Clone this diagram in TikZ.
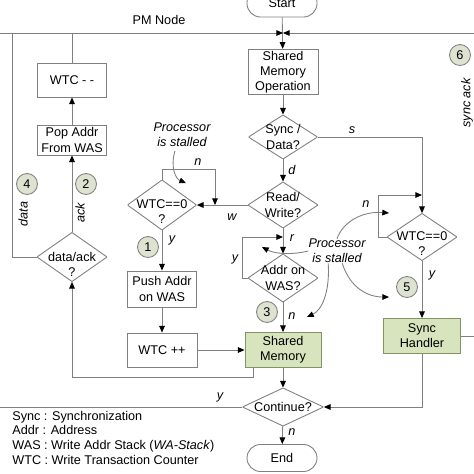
\documentclass[tikz,border=0pt]{standalone}
\usepackage{fontspec}
\setmainfont{Liberation Sans}
\usetikzlibrary{arrows.meta}

\definecolor{linegray}{RGB}{128,128,128}
\definecolor{boxgreen}{RGB}{215,228,189}
\definecolor{greenedge}{RGB}{130,148,98}
\definecolor{markfill}{RGB}{222,226,208}

\tikzset{
  txt/.style={font=\fontsize{7.2}{8.6}\selectfont},
  lbl/.style={font=\fontsize{7.2}{8.6}\selectfont\itshape, inner sep=0pt},
  line/.style={draw=linegray, line width=0.5pt},
  arr/.style={line, -{Triangle[length=3.8pt,width=3.2pt,color=black,fill=black]}},
  proc/.style={txt, rectangle, draw=linegray, line width=0.5pt, fill=white, align=center, inner sep=1pt},
  act/.style={proc, fill=boxgreen, draw=greenedge},
  term/.style={proc, rounded corners=0.27cm},
  dec/.style={txt, rectangle, fill=white, align=center, inner sep=0pt,
    path picture={\draw[linegray, line width=0.5pt]
      (path picture bounding box.north) -- (path picture bounding box.east) --
      (path picture bounding box.south) -- (path picture bounding box.west) -- cycle;}},
  qtext/.style={txt, align=center, yshift=-0.14cm},
  badge/.style={txt, circle, draw=linegray, line width=0.5pt, fill=markfill, inner sep=0pt, minimum size=0.42cm}
}

\begin{document}
\begin{tikzpicture}[x=0.02cm, y=-0.02cm]
\useasboundingbox (0,0) rectangle (474,474);

% main column
\node[term, minimum width=1.4cm, minimum height=0.56cm] (start) at (282,3) {Start};
\node[proc, minimum width=1.4cm, minimum height=0.86cm] (smo) at (283,72) {Shared\\Memory\\Operation};
\node[dec, minimum width=1.38cm, minimum height=0.88cm] (sd) at (283,137) {Sync /\\Data?};
\node[dec, minimum width=1.4cm, minimum height=0.92cm] (rw) at (283,205) {Read/\\Write?};
\node[dec, minimum width=1.4cm, minimum height=0.96cm] (aw) at (283,278) {Addr on\\WAS?};
\node[act, minimum width=1.52cm, minimum height=0.7cm] (shm) at (283,350) {Shared\\Memory};
\node[dec, minimum width=1.62cm, minimum height=0.76cm] (cont) at (283,407) {Continue?};
\node[term, minimum width=1.4cm, minimum height=0.54cm] (end) at (282,458) {End};

% write column
\node[dec, minimum width=1.38cm, minimum height=1.0cm, label={[qtext]center:WTC==0\\?}] (lwtc) at (162,205) {};
\node[proc, minimum width=1.38cm, minimum height=0.72cm] (push) at (162,289) {Push Addr\\on WAS};
\node[proc, minimum width=1.4cm, minimum height=0.68cm] (wtcp) at (162,350) {WTC ++};

% PM node column
\node[dec, minimum width=1.4cm, minimum height=0.98cm, label={[qtext]center:data/ack\\?}] (da) at (72,257) {};
\node[proc, minimum width=1.38cm, minimum height=0.6cm] (pop) at (72,140) {Pop Addr\\From WAS};
\node[proc, minimum width=1.38cm, minimum height=0.68cm] (wtcm) at (72,80) {WTC - -};

% sync column
\node[dec, minimum width=1.4cm, minimum height=0.94cm, label={[qtext]center:WTC==0\\?}] (rwtc) at (422,237) {};
\node[act, minimum width=1.54cm, minimum height=0.7cm] (sh) at (422,336) {Sync\\Handler};

\coordinate (pm) at (283,33);
\node[txt] (pmn) at (159,20) {PM Node};

% connectors
\draw[arr] (start) -- (smo);
\draw[arr] (smo) -- (sd);
\draw[arr] (sd) -- (rw);
\draw[arr] (sd.east) -| (rwtc.north);
\draw[arr] (rw.west) -- (lwtc.east);
\draw[arr] (lwtc.north) -- ++(0,-10) -| (215,205);
\draw[arr] (lwtc) -- (push);
\draw[arr] (push) -- (wtcp);
\draw[arr] (wtcp) -- (shm);
\draw[arr] (rw) -- (aw);
\draw[arr] (aw.west) -- ++(-5,0) |- (283,237);
\draw[arr] (aw) -- (shm);
\draw[arr] (shm) -- (cont);
\draw[arr] (cont) -- (end);
\draw[arr] (rwtc.west) -- ++(-8,0) |- (422,195);
\draw[arr] (rwtc) -- (sh);
\draw[arr] (sh.south) |- (cont.east);
\draw[arr] ([xshift=0.18cm]shm.south west) -- ++(0,9) -| (da.south);
\draw[arr] (da) -- (pop);
\draw[arr] (pop) -- (wtcm);
\draw[line] (wtcm.north) -- (wtcm.north |- pm);
\draw[line] (da.west) -| (12,33);
\draw[arr] (cont.west) -| (-6,33) -- (pm);
\draw[arr] (sh.east) -| (480,33) -- (pm);

% stalled notes
\node[lbl, align=center] (stl) at (182,135) {Processor\\is stalled};
\node[lbl, align=center] (stm) at (337,251) {Processor\\is stalled};
\coordinate (t1) at (262,247);
\coordinate (t2) at (307,317);
\coordinate (t3) at (389,213);
\coordinate (t4) at (389,297);
\coordinate (t5) at (186,183);
\draw[arr] ([xshift=-4pt,yshift=-2pt]stl.south) .. controls (170,168) and (176,179) .. (t5);
\draw[arr] (stm.west) .. controls (292,255) and (275,254) .. (t1);
\draw[arr] ([xshift=-5pt]stm.south) .. controls (330,292) and (322,310) .. (t2);
\draw[arr] (stm.north) .. controls (343,222) and (362,211) .. (t3);
\draw[arr] ([xshift=3pt]stm.south) .. controls (350,288) and (368,297) .. (t4);

% branch labels
\node[lbl] (ls) at (352,130) {s};
\node[lbl] (ld) at (292,170) {d};
\node[lbl] (ln1) at (198,162) {n};
\node[lbl] (lw) at (232,217) {w};
\node[lbl] (ly1) at (172,240) {y};
\node[lbl] (lr) at (292,238) {r};
\node[lbl] (ly2) at (235,259) {y};
\node[lbl] (ln2) at (292,316) {n};
\node[lbl] (ln3) at (366,204) {n};
\node[lbl] (ly3) at (432,275) {y};
\node[lbl] (ly4) at (220,397) {y};
\node[lbl] (ln4) at (292,432) {n};
\node[lbl, rotate=90] (ldata) at (23,214) {data};
\node[lbl, rotate=90] (lack) at (80,213) {ack};
\node[lbl, rotate=90] (lsack) at (467,103) {sync ack};

% step numbers
\node[badge] (c1) at (148,247) {1};
\node[badge] (c2) at (86,184) {2};
\node[badge] (c3) at (267,312) {3};
\node[badge] (c4) at (27,184) {4};
\node[badge] (c5) at (407,287) {5};
\node[badge] (c6) at (460,55) {6};

% legend
\node[txt, anchor=base west, inner sep=0pt] (leg1) at (12,420) {Sync : Synchronization};
\node[txt, anchor=base west, inner sep=0pt] (leg2) at (12,434.5) {Addr : Address};
\node[txt, anchor=base west, inner sep=0pt] (leg3) at (12,449) {WAS : Write Addr Stack (\textit{WA-Stack})};
\node[txt, anchor=base west, inner sep=0pt] (leg4) at (12,464) {WTC : Write Transaction Counter};
\end{tikzpicture}
\end{document}
